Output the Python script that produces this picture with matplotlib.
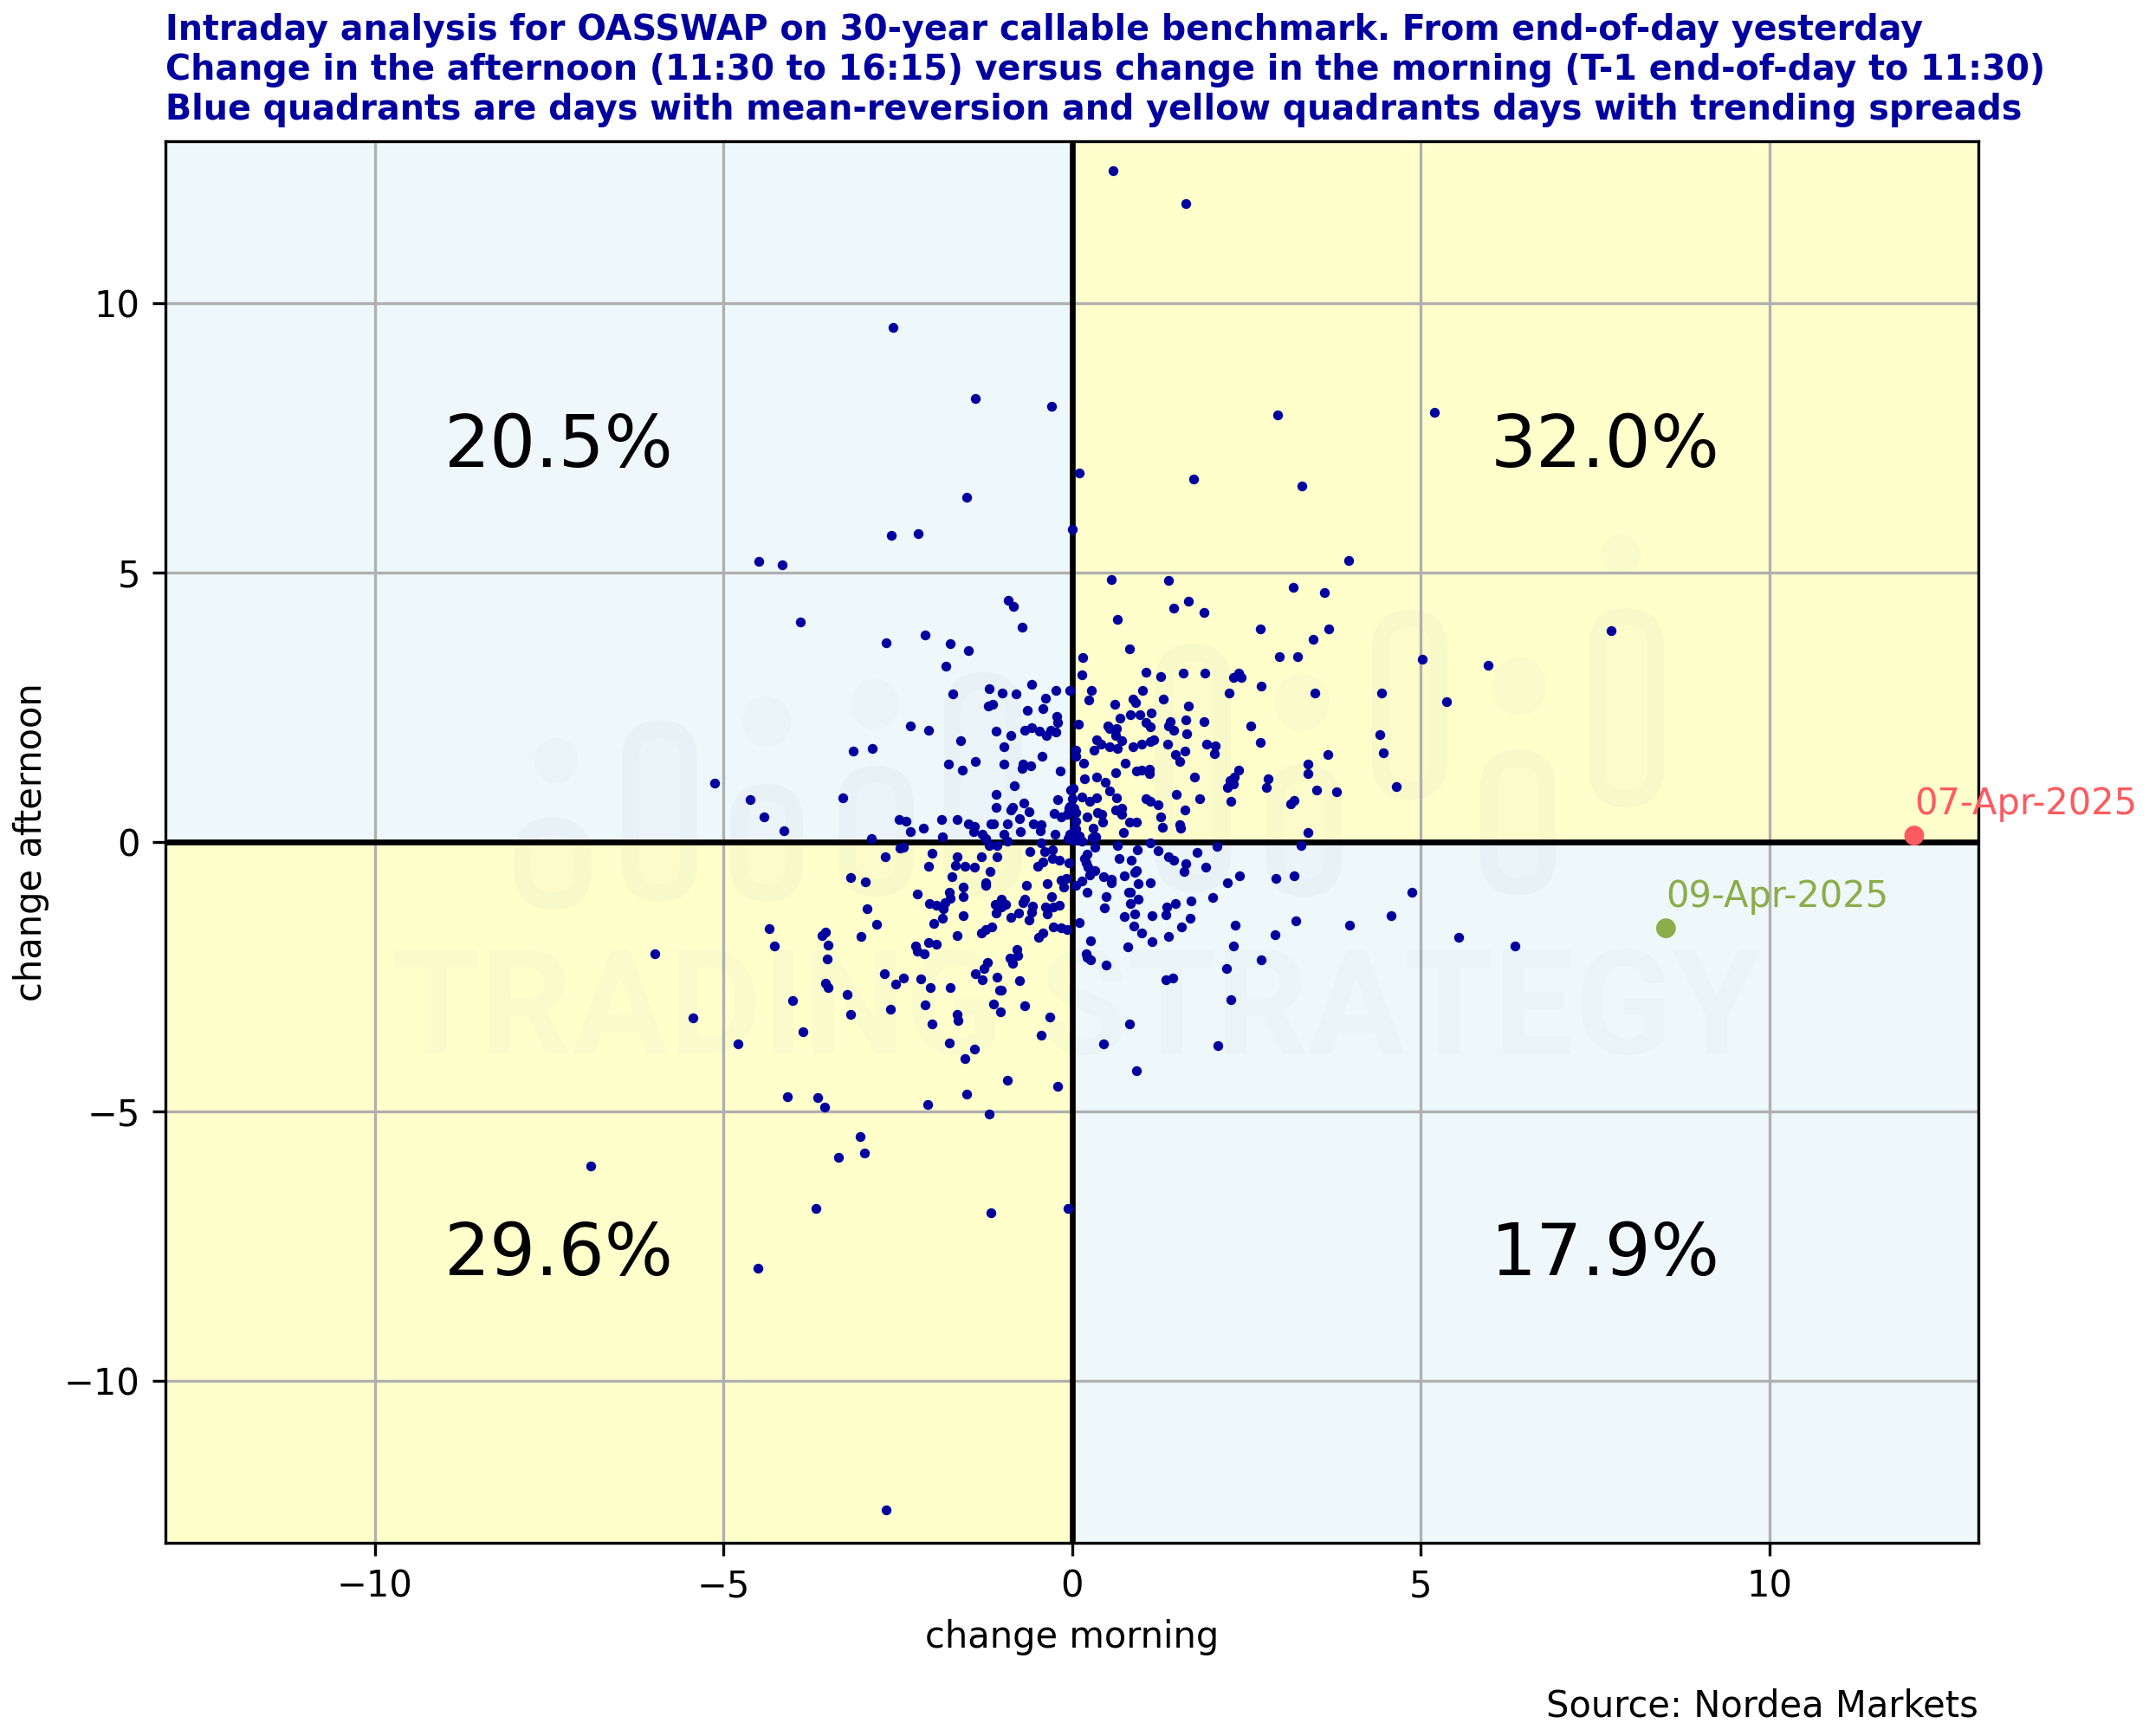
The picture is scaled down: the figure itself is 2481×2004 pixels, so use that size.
import matplotlib
matplotlib.use("Agg")
import matplotlib.pyplot as plt
from matplotlib.font_manager import FontProperties
from matplotlib.patches import Ellipse, FancyBboxPatch, PathPatch
from matplotlib.textpath import TextPath
from matplotlib.transforms import Affine2D, IdentityTransform

WIDTH, HEIGHT, DPI = 2481, 2004, 300
LIMIT = 13

TITLE = ("Intraday analysis for OASSWAP on 30-year callable benchmark. From end-of-day yesterday\n"
         "Change in the afternoon (11:30 to 16:15) versus change in the morning (T-1 end-of-day to 11:30)\n"
         "Blue quadrants are days with mean-reversion and yellow quadrants days with trending spreads")

TICKS = [-10, -5, 0, 5, 10]

# (change morning, change afternoon) in basis points, one list per quadrant
upper_left = [
    (-2.57, 9.55), (-1.39, 8.23), (-0.29, 8.08), (-1.51, 6.39), (-2.59, 5.69), (-2.2, 5.72),
    (-4.49, 5.21), (-4.16, 5.14), (-0.91, 4.49), (-0.84, 4.37), (-3.89, 4.08), (-0.72, 3.98),
    (-2.67, 3.69), (-2.1, 3.84), (-1.74, 3.68), (-1.48, 3.55), (-1.81, 3.26), (-5.12, 1.09),
    (-1.19, 2.85), (-1.0, 2.76), (-0.8, 2.74), (-0.58, 2.92), (-0.23, 2.82), (-0.03, 2.81),
    (-0.38, 2.66), (-1.71, 2.74), (-1.14, 2.56), (-1.2, 2.52), (-0.64, 2.44), (-0.42, 2.47),
    (-0.22, 2.33), (-0.21, 2.21), (-2.32, 2.16), (-2.05, 2.07), (-1.09, 2.05), (-0.87, 1.98),
    (-0.68, 2.08), (-0.58, 2.12), (-0.47, 2.05), (-0.37, 1.97), (-0.3, 2.08), (-0.23, 2.04),
    (-1.6, 1.88), (-2.86, 1.73), (-3.14, 1.69), (-0.98, 1.76), (-0.43, 1.59), (-1.38, 1.5),
    (-1.77, 1.45), (-1.57, 1.34), (-0.97, 1.44), (-0.7, 1.44), (-0.72, 1.37), (-0.59, 1.42),
    (-0.17, 1.31), (-0.82, 1.05), (-1.09, 0.89), (-0.21, 0.78), (-3.28, 0.82), (-4.61, 0.78),
    (-0.69, 0.73), (-1.09, 0.65), (-0.85, 0.65), (-0.88, 0.6), (-0.62, 0.57), (-0.26, 0.53),
    (-0.16, 0.47), (-0.07, 0.52), (-0.75, 0.43), (-4.42, 0.46), (-4.13, 0.21), (-2.48, 0.42),
    (-2.38, 0.39), (-2.32, 0.2), (-2.13, 0.26), (-1.87, 0.41), (-1.65, 0.42), (-1.49, 0.33),
    (-1.4, 0.29), (-1.41, 0.19), (-1.16, 0.34), (-1.13, 0.34), (-0.93, 0.33), (-0.55, 0.33),
    (-0.44, 0.32), (-0.45, 0.21), (-0.74, 0.2), (-0.97, 0.15), (-1.29, 0.14), (-0.24, 0.14),
    (-2.88, 0.07), (-1.86, 0.09), (-1.23, 0.06), (-0.93, 0.01), (-0.03, 0.15), (-0.05, 0.06),
    (-0.02, 0.97), (-0.04, 0.63), (-0.03, 0.66),
]
upper_right = [
    (0.59, 12.46), (1.63, 11.85), (2.95, 7.92), (5.2, 7.97), (0.1, 6.85), (1.75, 6.73),
    (3.3, 6.6), (0.01, 5.8), (3.97, 5.22), (0.56, 4.87), (1.38, 4.85), (3.18, 4.72),
    (3.62, 4.62), (1.67, 4.47), (1.46, 4.34), (1.9, 4.26), (0.65, 4.13), (2.7, 3.95),
    (3.68, 3.95), (3.46, 3.76), (7.73, 3.92), (0.83, 3.58), (2.98, 3.44), (3.24, 3.44),
    (5.02, 3.39), (5.97, 3.28), (0.16, 3.43), (0.14, 3.1), (1.06, 3.15), (1.27, 3.07),
    (1.6, 3.13), (1.91, 3.13), (2.32, 3.06), (2.39, 3.13), (2.43, 3.05), (2.71, 2.9),
    (3.49, 2.77), (2.26, 2.77), (1.01, 2.82), (0.28, 2.81), (0.24, 2.64), (0.87, 2.65),
    (0.91, 2.58), (1.31, 2.65), (0.62, 2.55), (1.67, 2.52), (0.84, 2.37), (0.98, 2.37),
    (1.14, 2.4), (0.69, 2.29), (1.06, 2.21), (1.12, 2.14), (1.41, 2.24), (1.39, 2.15),
    (1.46, 2.07), (1.63, 2.26), (1.9, 2.24), (1.64, 2.01), (2.57, 2.15), (0.09, 2.18),
    (0.52, 2.16), (0.54, 2.1), (0.64, 2.1), (0.63, 1.98), (0.35, 1.89), (0.41, 1.81),
    (0.71, 1.88), (2.7, 1.84), (1.17, 1.89), (1.13, 1.86), (1.0, 1.81), (0.87, 1.77),
    (0.54, 1.76), (0.65, 1.73), (0.32, 1.71), (1.37, 1.81), (1.93, 1.81), (2.05, 1.78),
    (2.04, 1.64), (1.62, 1.68), (1.48, 1.63), (1.55, 1.49), (3.67, 1.63), (0.06, 1.71),
    (0.06, 1.59), (0.17, 1.47), (0.77, 1.47), (0.63, 1.29), (0.93, 1.31), (1.0, 1.34),
    (1.11, 1.35), (1.11, 1.27), (2.39, 1.34), (3.39, 1.44), (3.39, 1.27), (1.76, 1.21),
    (2.33, 1.21), (2.27, 1.14), (2.32, 1.08), (2.23, 1.02), (2.81, 1.17), (2.79, 1.02),
    (3.51, 0.97), (3.79, 0.94), (0.18, 1.18), (0.35, 1.2), (0.48, 1.11), (0.54, 0.95),
    (0.64, 0.82), (0.14, 0.84), (0.35, 0.82), (0.25, 0.76), (0.01, 0.8), (1.06, 0.8),
    (1.13, 0.76), (1.23, 0.69), (1.5, 0.88), (1.83, 0.8), (2.28, 0.75), (3.19, 0.77),
    (3.14, 0.71), (1.62, 0.6), (0.72, 0.63), (0.63, 0.59), (0.71, 0.51), (0.37, 0.54),
    (0.43, 0.52), (0.44, 0.37), (0.22, 0.46), (0.06, 0.55), (1.27, 0.47), (0.83, 0.37),
    (0.92, 0.37), (1.55, 0.32), (1.56, 0.26), (1.3, 0.28), (3.39, 0.17), (0.74, 0.17),
    (0.31, 0.25), (0.34, 0.1), (0.06, 0.38), (0.05, 0.24), (0.29, 0.08), (0.11, 0.11),
    (0.14, 0.01), (0.02, 0.99), (0.03, 0.63), (0.03, 0.24), (0.02, 0.04), (4.44, 2.77),
    (4.41, 2.0), (4.46, 1.66), (4.65, 1.03), (5.37, 2.6),
]
lower_right = [
    (0.65, -0.06), (1.13, -0.02), (2.08, -0.08), (3.29, -0.06), (0.94, -0.14), (1.23, -0.16),
    (1.8, -0.19), (1.38, -0.27), (1.46, -0.33), (0.68, -0.3), (0.85, -0.33), (1.63, -0.4),
    (1.92, -0.46), (1.61, -0.54), (0.33, -0.1), (0.22, -0.23), (0.18, -0.31), (0.21, -0.38),
    (0.23, -0.47), (0.33, -0.53), (0.25, -0.61), (0.45, -0.65), (0.57, -0.69), (0.57, -0.75),
    (0.75, -0.62), (0.9, -0.56), (0.92, -0.53), (0.95, -0.77), (1.13, -0.76), (2.4, -0.62),
    (2.23, -0.76), (2.92, -0.68), (3.19, -0.63), (0.14, -0.73), (0.06, -0.8), (0.22, -0.94),
    (0.49, -1.01), (0.81, -0.94), (0.84, -0.94), (0.95, -1.06), (0.84, -1.14), (0.47, -1.22),
    (2.02, -1.03), (1.71, -1.1), (1.48, -1.14), (1.36, -1.2), (1.35, -1.35), (0.9, -1.33),
    (0.75, -1.38), (1.15, -1.36), (1.69, -1.42), (1.57, -1.57), (0.89, -1.56), (0.11, -1.49),
    (1.0, -1.69), (1.38, -1.75), (1.15, -1.85), (3.21, -1.46), (2.34, -1.55), (2.91, -1.72),
    (2.32, -1.93), (2.72, -2.19), (2.22, -2.34), (0.8, -1.94), (0.27, -1.83), (0.21, -2.08),
    (0.22, -2.14), (0.27, -2.19), (0.49, -2.28), (1.35, -2.55), (1.45, -2.53), (2.28, -2.93),
    (0.82, -3.38), (0.45, -3.75), (2.09, -3.77), (0.92, -4.25), (4.88, -0.94), (4.58, -1.36),
    (3.98, -1.54), (5.55, -1.77), (6.36, -1.93),
]
lower_left = [
    (-0.44, -0.01), (-1.08, -0.06), (-1.19, -0.06), (-2.46, -0.11), (-2.41, -0.09), (-2.01, -0.21),
    (-2.68, -0.28), (-1.64, -0.27), (-1.3, -0.28), (-1.08, -0.28), (-0.6, -0.17), (-0.39, -0.17),
    (-0.28, -0.14), (-0.28, -0.31), (-0.18, -0.33), (-0.04, -0.38), (-0.42, -0.37), (-0.49, -0.45),
    (-2.06, -0.45), (-1.67, -0.43), (-1.54, -0.45), (-1.4, -0.46), (-1.18, -0.54), (-1.72, -0.65),
    (-3.17, -0.66), (-2.96, -0.74), (-1.23, -0.75), (-1.24, -0.81), (-1.56, -0.84), (-0.65, -0.8),
    (-0.35, -0.77), (-0.15, -0.71), (-0.08, -0.68), (-0.12, -0.84), (-2.22, -0.96), (-1.76, -0.94),
    (-1.74, -1.05), (-1.56, -1.02), (-0.29, -1.02), (-0.68, -1.06), (-0.7, -1.12), (-1.01, -1.06),
    (-1.1, -1.16), (-0.95, -1.15), (-1.01, -1.2), (-1.09, -1.32), (-2.04, -1.14), (-1.94, -1.18),
    (-1.82, -1.12), (-1.85, -1.23), (-2.94, -1.23), (-0.57, -1.19), (-0.58, -1.3), (-0.38, -1.2),
    (-0.27, -1.2), (-0.18, -1.17), (-0.36, -1.33), (-0.77, -1.32), (-0.87, -1.39), (-0.62, -1.45),
    (-1.56, -1.36), (-1.86, -1.41), (-1.98, -1.51), (-2.8, -1.53), (-4.34, -1.6), (-3.53, -1.67),
    (-3.58, -1.73), (-3.03, -1.75), (-4.27, -1.93), (-3.5, -1.91), (-3.51, -2.17), (-1.65, -1.73),
    (-1.15, -1.57), (-1.23, -1.63), (-1.3, -1.68), (-0.27, -1.57), (-0.15, -1.59), (-0.07, -1.63),
    (-0.41, -1.69), (-0.48, -1.77), (-2.06, -1.86), (-1.95, -1.89), (-2.24, -1.93), (-2.22, -2.02),
    (-2.12, -2.07), (-0.79, -1.99), (-0.78, -2.11), (-0.89, -2.15), (-0.85, -2.25), (-1.21, -2.24),
    (-1.26, -2.34), (-1.39, -2.45), (-2.69, -2.45), (-2.42, -2.53), (-2.53, -2.64), (-2.17, -2.54),
    (-2.03, -2.7), (-1.74, -2.7), (-1.28, -2.56), (-1.08, -2.51), (-0.75, -2.57), (-1.04, -2.75),
    (-1.01, -2.75), (-3.53, -2.62), (-3.5, -2.7), (-3.22, -2.83), (-4.01, -2.94), (-3.18, -3.2),
    (-2.6, -3.1), (-2.1, -3.02), (-1.13, -3.01), (-1.03, -3.15), (-0.68, -3.04), (-1.64, -3.2),
    (-1.63, -3.31), (-2.01, -3.38), (-0.32, -3.25), (-0.44, -3.59), (-3.86, -3.52), (-1.76, -3.73),
    (-1.4, -3.84), (-1.54, -4.02), (-4.79, -3.75), (-0.93, -4.42), (-0.21, -4.53), (-4.08, -4.72),
    (-3.65, -4.74), (-3.55, -4.92), (-2.07, -4.87), (-1.51, -4.67), (-1.19, -5.05), (-3.04, -5.46),
    (-2.98, -5.77), (-3.35, -5.85), (-3.67, -6.8), (-1.16, -6.87), (-0.05, -6.8), (-4.5, -7.91),
    (-2.66, -12.39), (-6.9, -6.01), (-5.98, -2.07), (-5.44, -3.26),
]

highlight_dates = ["07-Apr-2025", "09-Apr-2025"]
highlight_morning = [12.08, 8.52]
highlight_afternoon = [0.12, -1.60]
highlight_colors = ["#FF5A5F", "#8BAD4B"]

# Share of days per quadrant: (x, y, label)
quadrant_labels = [(-9, 6.96, "20.5%"), (6, 6.96, "32.0%"), (-9, -8.03, "29.6%"), (6, -8.03, "17.9%")]

# Faint logo: (left, top, right, bottom) of each capsule, and (x, y, radius) of each dot, in pixels
logo_capsules = [
    (593, 944, 683, 1050), (718, 832, 805, 1041), (843, 905, 927, 1041), (968, 884, 1055, 1035),
    (1090, 776, 1180, 1035), (1334, 743, 1421, 1030), (1462, 882, 1549, 1035),
    (1584, 704, 1671, 923), (1709, 865, 1796, 1033), (1834, 702, 1921, 932),
]
logo_dots = [(642, 878, 25), (885, 833, 28), (1010, 813, 28), (1503, 811, 32), (1754, 792, 32), (1871, 641, 23)]
logo_word = "TRADING STRATEGY"
logo_word_box = (455, 1095, 2033, 1218)

BLUE_QUADRANT = "#EEF7FA"
YELLOW_QUADRANT = "#FFFFCC"
MARK_BLUE = "#00009F"
WATERMARK = "#60708A"

fig = plt.figure(figsize=(WIDTH / DPI, HEIGHT / DPI), dpi=DPI)
ax = fig.add_axes([191 / WIDTH, 1 - 1781 / HEIGHT, (2284 - 191) / WIDTH, (1781 - 163) / HEIGHT])
ax.set_xlim(-LIMIT, LIMIT)
ax.set_ylim(-LIMIT, LIMIT)

# Quadrant backgrounds: trending days in yellow, mean-reverting days in blue
ax.fill_between([-LIMIT, 0], 0, LIMIT, color=BLUE_QUADRANT, lw=0, zorder=0)
ax.fill_between([0, LIMIT], -LIMIT, 0, color=BLUE_QUADRANT, lw=0, zorder=0)
ax.fill_between([0, LIMIT], 0, LIMIT, color=YELLOW_QUADRANT, lw=0, zorder=0)
ax.fill_between([-LIMIT, 0], -LIMIT, 0, color=YELLOW_QUADRANT, lw=0, zorder=0)


def flip(y):
    return HEIGHT - y


# Logo and wordmark sit behind the grid at very low opacity
for left, top, right, bottom in logo_capsules:
    radius = (right - left) / 2
    outer = FancyBboxPatch((left + radius, flip(bottom) + radius), 2 * 0.001, bottom - top - 2 * radius,
                           boxstyle=f"round,pad={radius},rounding_size={radius}",
                           transform=IdentityTransform(), fc=WATERMARK, ec="none", alpha=0.014, zorder=0.5)
    ring = FancyBboxPatch((left + radius, flip(bottom) + radius), 2 * 0.001, bottom - top - 2 * radius,
                          boxstyle=f"round,pad={radius - 10},rounding_size={radius - 10}",
                          transform=IdentityTransform(), fc="none", ec=WATERMARK, lw=4.8, alpha=0.018, zorder=0.5)
    ax.add_patch(outer)
    ax.add_patch(ring)
for x, y, radius in logo_dots:
    ax.add_patch(Ellipse((x, flip(y)), 2 * radius, 2.1 * radius, transform=IdentityTransform(),
                         fc=WATERMARK, ec="none", alpha=0.028, zorder=0.5))
word = TextPath((0, 0), logo_word, size=100, prop=FontProperties(family="Roboto", weight="bold"))
bounds = word.get_extents()
left, top, right, bottom = logo_word_box
word_to_pixels = (Affine2D().translate(-bounds.x0, -bounds.y0)
                  .scale((right - left) / bounds.width, (bottom - top) / bounds.height)
                  .translate(left, flip(bottom)))
ax.add_patch(PathPatch(word, transform=word_to_pixels, fc=WATERMARK, ec="none", alpha=0.028, zorder=0.6))

ax.set_xticks(TICKS)
ax.set_yticks(TICKS)
ax.grid(True, color="#b0b0b0", lw=0.8, zorder=1)
ax.set_axisbelow(True)
ax.axhline(0, color="black", lw=1.6, zorder=2)
ax.axvline(0, color="black", lw=1.6, zorder=2)

days = upper_left + upper_right + lower_right + lower_left
ax.scatter([d[0] for d in days], [d[1] for d in days], s=7.5, color=MARK_BLUE, linewidths=0, zorder=3)

ax.scatter(highlight_morning, highlight_afternoon, s=30, c=highlight_colors, linewidths=0, zorder=4)
for date, x, y, color in zip(highlight_dates, highlight_morning, highlight_afternoon, highlight_colors):
    ax.text(x, y + 0.4, date, color=color, fontsize=10, zorder=5)

for x, y, label in quadrant_labels:
    ax.text(x, y, label, fontsize=20, color="black", zorder=5)

ax.set_xlabel("change morning", fontsize=10)
ax.set_ylabel("change afternoon", fontsize=10)
ax.tick_params(labelsize=10)
ax.set_title(TITLE, loc="left", fontsize=9.5, fontweight="bold", color=MARK_BLUE)
fig.text(2284 / WIDTH, 1 - 1981 / HEIGHT, "Source: Nordea Markets", fontsize=10, ha="right", va="baseline")

fig.savefig("out.png", dpi=DPI)
